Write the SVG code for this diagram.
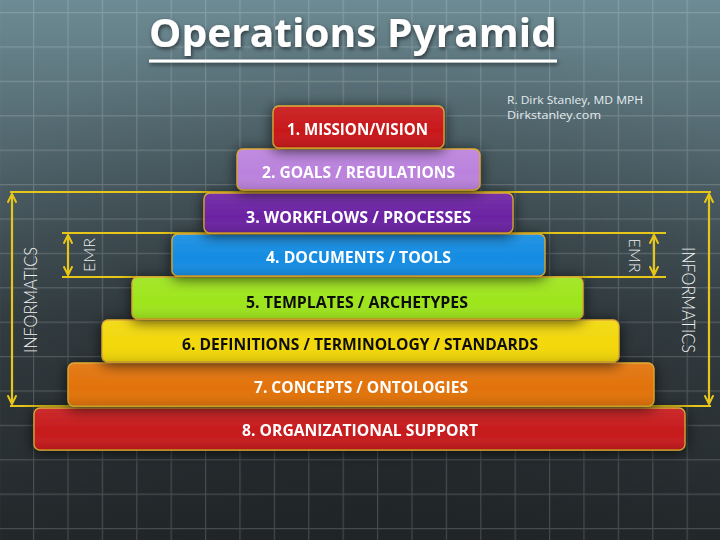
<svg xmlns="http://www.w3.org/2000/svg" width="720" height="540" viewBox="0 0 720 540">
<defs>
<linearGradient id="bg" x1="0" y1="0" x2="0" y2="1">
<stop offset="0" stop-color="#6d8b94"/>
<stop offset="0.3" stop-color="#4f636a"/>
<stop offset="0.6" stop-color="#343e42"/>
<stop offset="1" stop-color="#222729"/>
</linearGradient>
<radialGradient id="vig" cx="0.5" cy="0.6" r="0.6">
<stop offset="0" stop-color="#000" stop-opacity="0.25"/>
<stop offset="1" stop-color="#000" stop-opacity="0"/>
</radialGradient>
<pattern id="grid" patternUnits="userSpaceOnUse" x="33" y="12" width="34.4" height="34.4">
<path d="M0,0.5 H34.4 M0.5,0 V34.4" stroke="#ffffff" stroke-opacity="0.17" stroke-width="1.3" fill="none"/>
</pattern>
<linearGradient id="shade" x1="0" y1="0" x2="0" y2="1">
<stop offset="0" stop-color="#fff" stop-opacity="0.08"/>
<stop offset="0.6" stop-color="#fff" stop-opacity="0"/>
<stop offset="1" stop-color="#000" stop-opacity="0.12"/>
</linearGradient>
<filter id="sh" x="-20%" y="-40%" width="140%" height="180%">
<feDropShadow dx="0" dy="2" stdDeviation="7" flood-color="#000" flood-opacity="0.7"/>
</filter>
<filter id="tsh" x="-10%" y="-30%" width="120%" height="160%">
<feDropShadow dx="1" dy="2" stdDeviation="2" flood-color="#000" flood-opacity="0.6"/>
</filter>
<marker id="chev" viewBox="0 0 10 10" markerUnits="userSpaceOnUse" markerWidth="10" markerHeight="10" refX="9.3" refY="5" orient="auto-start-reverse">
<path d="M0.5,0.6 L9.3,5 L0.5,9.4" fill="none" stroke="#e6c619" stroke-width="2"/>
</marker>
</defs>
<style>
.box{stroke:#dba72c;stroke-width:1.3}
.lbl{font-family:"Open Sans",Lato,"Liberation Sans",sans-serif;font-weight:bold;font-size:16.5px;text-anchor:middle}
.w{fill:#ffffff}
.k{fill:#111111}
.ln{stroke:#e6c619;stroke-width:2.2;fill:none}
.side{font-family:Lato,"Open Sans","Liberation Sans",sans-serif;font-weight:300;fill:#f2f2f2;text-anchor:middle;dominant-baseline:central}
.auth{font-family:"Open Sans","Liberation Sans",sans-serif;font-size:11.5px;fill:#e4ecef}
</style>
<rect width="720" height="540" fill="url(#bg)"/>
<rect width="720" height="540" fill="url(#vig)"/>
<rect width="720" height="540" fill="url(#grid)"/>

<g id="title" filter="url(#tsh)">
<text x="353" y="47" font-family="'Open Sans',Lato,'Liberation Sans',sans-serif" font-weight="bold" font-size="38.5" fill="#ffffff" text-anchor="middle" textLength="408" lengthAdjust="spacingAndGlyphs">Operations Pyramid</text>
<rect x="149" y="59.5" width="408" height="3" fill="#ffffff"/>
</g>
<g id="author">
<text class="auth" x="507" y="103.5" textLength="136" lengthAdjust="spacingAndGlyphs">R. Dirk Stanley, MD MPH</text>
<text class="auth" x="507" y="119" textLength="94" lengthAdjust="spacingAndGlyphs">Dirkstanley.com</text>
</g>

<g id="connectors">
<line class="ln" x1="10" y1="192" x2="711" y2="192"/>
<line class="ln" x1="10" y1="406" x2="711" y2="406"/>
<line class="ln" x1="12" y1="194" x2="12" y2="404" marker-start="url(#chev)" marker-end="url(#chev)"/>
<line class="ln" x1="709" y1="194" x2="709" y2="404" marker-start="url(#chev)" marker-end="url(#chev)"/>
<line class="ln" x1="62" y1="233" x2="300" y2="233"/>
<line class="ln" x1="62" y1="277" x2="300" y2="277"/>
<line class="ln" x1="420" y1="233" x2="666" y2="233"/>
<line class="ln" x1="420" y1="277" x2="666" y2="277"/>
<line class="ln" x1="68" y1="235" x2="68" y2="275" marker-start="url(#chev)" marker-end="url(#chev)"/>
<line class="ln" x1="654" y1="235" x2="654" y2="275" marker-start="url(#chev)" marker-end="url(#chev)"/>
</g>

<g id="labels-side">
<text class="side" font-size="17" transform="translate(30.5,300) rotate(-90)" textLength="106" lengthAdjust="spacingAndGlyphs">INFORMATICS</text>
<text class="side" font-size="17" transform="translate(688,300) rotate(90)" textLength="106" lengthAdjust="spacingAndGlyphs">INFORMATICS</text>
<text class="side" font-size="16" transform="translate(88,255) rotate(-90)" textLength="34" lengthAdjust="spacingAndGlyphs">EMR</text>
<text class="side" font-size="16" transform="translate(635.5,255.5) rotate(90)" textLength="34" lengthAdjust="spacingAndGlyphs">EMR</text>
</g>

<g id="level8" filter="url(#sh)">
<rect class="box" x="34" y="408" width="651" height="42" rx="6" fill="#c71a1c"/>
<rect x="34" y="408" width="651" height="42" rx="6" fill="url(#shade)"/>
<text class="lbl w" x="360" y="436" textLength="236" lengthAdjust="spacingAndGlyphs">8. ORGANIZATIONAL SUPPORT</text>
</g>
<g id="level7" filter="url(#sh)">
<rect class="box" x="68" y="363" width="586" height="43" rx="6" fill="#e2720a"/>
<rect x="68" y="363" width="586" height="43" rx="6" fill="url(#shade)"/>
<text class="lbl w" x="361" y="393" textLength="214" lengthAdjust="spacingAndGlyphs">7. CONCEPTS / ONTOLOGIES</text>
</g>
<g id="level6" filter="url(#sh)">
<rect class="box" x="102" y="320" width="517" height="42" rx="6" fill="#f2d80a"/>
<rect x="102" y="320" width="517" height="42" rx="6" fill="url(#shade)"/>
<text class="lbl k" x="360" y="350" textLength="356" lengthAdjust="spacingAndGlyphs">6. DEFINITIONS / TERMINOLOGY / STANDARDS</text>
</g>
<g id="level5" filter="url(#sh)">
<rect class="box" x="132" y="277" width="451" height="42" rx="6" fill="#9ee51c"/>
<rect x="132" y="277" width="451" height="42" rx="6" fill="url(#shade)"/>
<text class="lbl k" x="357" y="308" textLength="222" lengthAdjust="spacingAndGlyphs">5. TEMPLATES / ARCHETYPES</text>
</g>
<g id="level4" filter="url(#sh)">
<rect class="box" x="172" y="234" width="373" height="42" rx="6" fill="#148ce2"/>
<rect x="172" y="234" width="373" height="42" rx="6" fill="url(#shade)"/>
<text class="lbl w" x="358.5" y="263" textLength="185" lengthAdjust="spacingAndGlyphs">4. DOCUMENTS / TOOLS</text>
</g>
<g id="level3" filter="url(#sh)">
<rect class="box" x="204" y="193" width="309" height="40" rx="6" fill="#6b23a2"/>
<rect x="204" y="193" width="309" height="40" rx="6" fill="url(#shade)"/>
<text class="lbl w" x="358.5" y="222.5" textLength="225" lengthAdjust="spacingAndGlyphs">3. WORKFLOWS / PROCESSES</text>
</g>
<g id="level2" filter="url(#sh)">
<rect class="box" x="237" y="149" width="243" height="41" rx="6" fill="#bb82dd"/>
<rect x="237" y="149" width="243" height="41" rx="6" fill="url(#shade)"/>
<text class="lbl w" x="358.5" y="178" textLength="193" lengthAdjust="spacingAndGlyphs">2. GOALS / REGULATIONS</text>
</g>
<g id="level1" filter="url(#sh)">
<rect class="box" x="273" y="106" width="171" height="42" rx="6" fill="#c8181a"/>
<rect x="273" y="106" width="171" height="42" rx="6" fill="url(#shade)"/>
<text class="lbl w" x="357.5" y="135" textLength="141" lengthAdjust="spacingAndGlyphs">1. MISSION/VISION</text>
</g>
</svg>
